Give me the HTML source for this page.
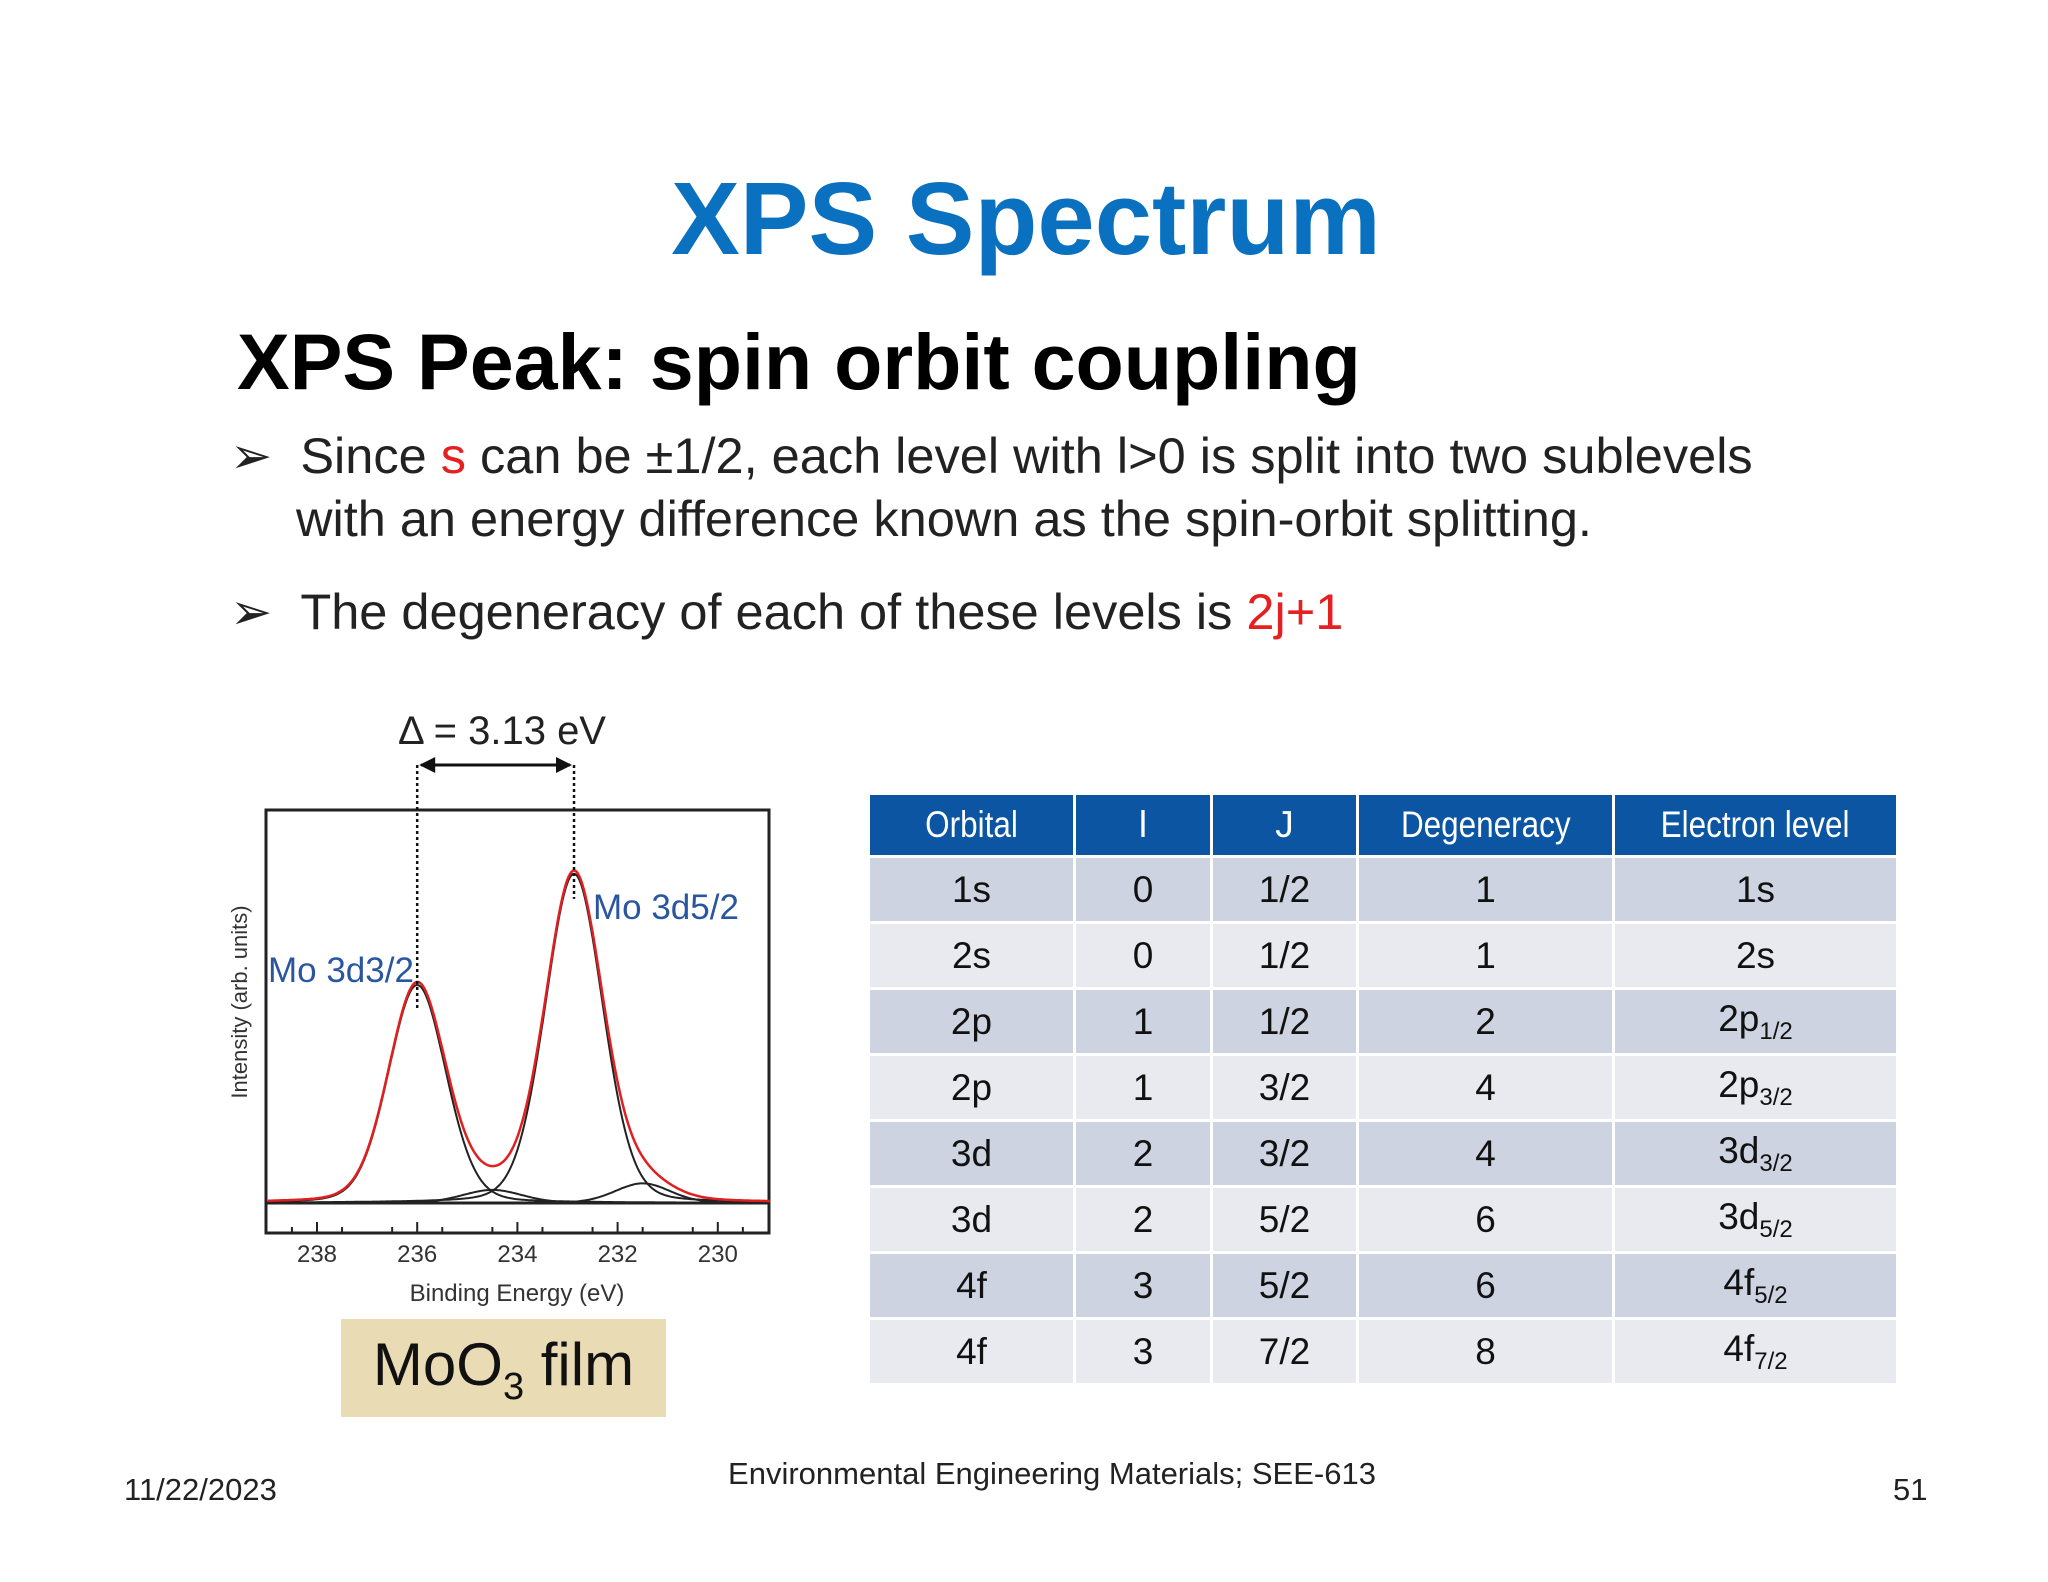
<!DOCTYPE html>
<html><head><meta charset="utf-8"><style>
body{margin:0;width:2048px;height:1582px;background:#fff;position:relative;overflow:hidden;font-family:"Liberation Sans",sans-serif}
.abs{position:absolute;white-space:nowrap}
table{position:absolute;left:867px;top:792px;width:1032px;table-layout:fixed;border-collapse:separate;border-spacing:3px;font-family:"Liberation Sans",sans-serif;font-size:37px;text-align:center}
th{background:#0b55a3;color:#fff;font-weight:normal;height:58px}
td{height:61px;color:#111}
tr.a td{background:#cdd3e1}tr.b td{background:#e8eaef}
.n{display:inline-block;transform:scaleX(0.85)}
sub{font-size:24px;vertical-align:-8px}
</style></head><body>
<div class="abs" style="left:0;width:2052px;text-align:center;top:160px;font-size:103px;font-weight:bold;color:#0a70c0">XPS Spectrum</div>
<div class="abs" style="left:237px;top:316px;font-size:79px;font-weight:bold;color:#000">XPS Peak: spin orbit coupling</div>
<div class="abs" style="left:230px;top:424px;font-size:50.5px;color:#222;line-height:63px">➢&nbsp;&nbsp;Since <span style="color:#e52020">s</span> can be ±1/2, each level with l&gt;0 is split into two sublevels<br><span style="padding-left:66px">with an energy difference known as the spin-orbit splitting.</span></div>
<div class="abs" style="left:230px;top:582px;font-size:50.5px;color:#222">➢&nbsp;&nbsp;The degeneracy of each of these levels is <span style="color:#e52020">2j+1</span></div>

<svg class="abs" style="left:0;top:0" width="900" height="1450" id="chart"></svg>
<div class="abs" style="left:341px;top:1319px;width:325px;height:98px;background:#e9dbb4;font-size:60px;text-align:center;line-height:92px;color:#111">MoO<sub style="font-size:38px;vertical-align:-14px">3</sub> film</div>

<table>
<colgroup><col style="width:203px"><col style="width:134px"><col style="width:143px"><col style="width:253px"><col style="width:281px"></colgroup>
<tr><th><span class="n">Orbital</span></th><th>l</th><th>J</th><th><span class="n">Degeneracy</span></th><th><span class="n">Electron level</span></th></tr>
<tr class="a"><td>1s</td><td>0</td><td>1/2</td><td>1</td><td>1s</td></tr>
<tr class="b"><td>2s</td><td>0</td><td>1/2</td><td>1</td><td>2s</td></tr>
<tr class="a"><td>2p</td><td>1</td><td>1/2</td><td>2</td><td>2p<sub>1/2</sub></td></tr>
<tr class="b"><td>2p</td><td>1</td><td>3/2</td><td>4</td><td>2p<sub>3/2</sub></td></tr>
<tr class="a"><td>3d</td><td>2</td><td>3/2</td><td>4</td><td>3d<sub>3/2</sub></td></tr>
<tr class="b"><td>3d</td><td>2</td><td>5/2</td><td>6</td><td>3d<sub>5/2</sub></td></tr>
<tr class="a"><td>4f</td><td>3</td><td>5/2</td><td>6</td><td>4f<sub>5/2</sub></td></tr>
<tr class="b"><td>4f</td><td>3</td><td>7/2</td><td>8</td><td>4f<sub>7/2</sub></td></tr>
</table>

<div class="abs" style="left:124px;top:1472px;font-size:31px;color:#222">11/22/2023</div>
<div class="abs" style="left:0;width:2104px;text-align:center;top:1456px;font-size:31px;color:#222">Environmental Engineering Materials; SEE-613</div>
<div class="abs" style="left:1893px;top:1472px;font-size:31px;color:#222">51</div>

<script>
const peakCenters=[236.0,232.87,234.5,231.5];
const peakHeights=[1.0,1.51,0.06,0.09];
const peakWidths=[1.35,1.35,1.4,1.3];
const xTicks=[238,236,234,232,230];
const svg=document.getElementById('chart');
const NS='http://www.w3.org/2000/svg';
const X=e=>317+(238-e)*50.1, Y=v=>1203-v*218;
function mk(t,a){const e=document.createElementNS(NS,t);for(const k in a)e.setAttribute(k,a[k]);svg.appendChild(e);return e;}
function pv(x,c,w){const g=Math.exp(-4*Math.LN2*(x-c)**2/(w*w));const l=1/(1+4*(x-c)**2/(w*w));return 0.85*g+0.15*l;}
let f=mk('rect',{x:266,y:810,width:503,height:423,fill:'none',stroke:'#222','stroke-width':3});

let b=mk('line',{x1:266,x2:769,y1:1203,y2:1203,stroke:'#222','stroke-width':3});

for(let e=238.5;e>=229;e-=1){const t=mk('line',{x1:X(e),x2:X(e),y1:1233,y2:1227,stroke:'#222','stroke-width':2});
}
xTicks.forEach(v=>{const t=mk('line',{x1:X(v),x2:X(v),y1:1233,y2:1222,stroke:'#222','stroke-width':2});
});
xTicks.forEach(v=>{const t=mk('text',{x:X(v),y:1262,'font-size':24,'text-anchor':'middle',fill:'#333','font-family':'Liberation Sans'});t.textContent=v;
});
const xs=[];for(let e=238.98;e>=228.95;e-=0.03)xs.push(e);
peakCenters.forEach((c,i)=>{const p=mk('polyline',{fill:'none',stroke:'#222','stroke-width':2,points:xs.map(e=>X(e).toFixed(1)+','+Y(peakHeights[i]*pv(e,c,peakWidths[i])).toFixed(1)).join(' ')});
});
const s=mk('polyline',{fill:'none',stroke:'#e02020','stroke-width':2.5,points:xs.map(e=>{let v=0;peakCenters.forEach((c,i)=>v+=peakHeights[i]*pv(e,c,peakWidths[i]));return X(e).toFixed(1)+','+Y(v).toFixed(1);}).join(' ')});

[[0,765,Y(peakHeights[0])+25],[1,765,Y(peakHeights[1])+25]].forEach(([i,y1,y2])=>{const l=mk('line',{x1:X(peakCenters[i]),x2:X(peakCenters[i]),y1:y1,y2:y2,stroke:'#111','stroke-width':2.5,'stroke-dasharray':'3,3'});
});
const a=mk('line',{x1:X(peakCenters[0])+4,x2:X(peakCenters[1])-4,y1:765,y2:765,stroke:'#111','stroke-width':3});

[[X(peakCenters[0])+2,1],[X(peakCenters[1])-2,-1]].forEach(([x,d])=>{const h=mk('polygon',{points:`${x},765 ${x+16*d},757 ${x+16*d},773`,fill:'#111'});
});
function txt(x,y,t,sz,col,name,anc){const e=mk('text',{x:x,y:y,'font-size':sz,fill:col,'font-family':'Liberation Sans','text-anchor':anc||'start'});e.textContent=t;return e;}
txt(502,744,'Δ = 3.13 eV',40,'#222','delta-label','middle');
txt(268,982,'Mo 3d3/2',35,'#2a55a0','label-3d32');
txt(593,919,'Mo 3d5/2',35,'#2a55a0','label-3d52');
txt(517,1301,'Binding Energy (eV)',24,'#333','x-axis-title','middle');
const yt=txt(0,0,'Intensity (arb. units)',22,'#333','y-axis-title','middle');yt.setAttribute('transform','translate(247,1002) rotate(-90)');
</script>
</body></html>
